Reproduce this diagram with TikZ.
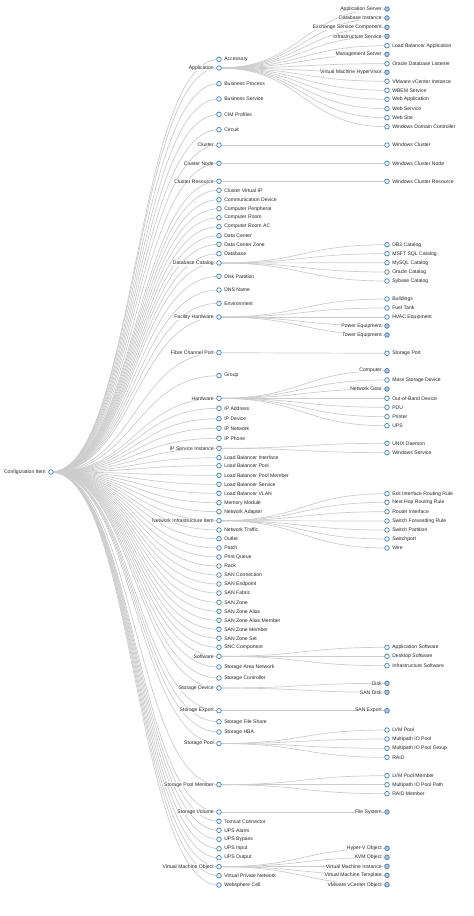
\documentclass[tikz,border=0pt]{standalone}
\usepackage{fontspec}
\setmainfont{Liberation Sans}
\usetikzlibrary{backgrounds}

\definecolor{steel}{HTML}{4682B4}
\definecolor{lightsteel}{HTML}{B0C4DE}
\definecolor{linkgrey}{HTML}{CCCCCC}

\tikzset{
  dot/.style={circle,draw=steel,fill=white,line width=0.75pt,inner sep=0pt,minimum size=4.6pt},
  tag/.style={inner sep=0.3pt,fill=white,label distance=2.1pt,font=\fontsize{5.1pt}{6pt}\selectfont,text=black!85},
  link/.style={draw=linkgrey,line width=0.7pt},
}

\begin{document}
\begin{tikzpicture}[x=1pt,y=-1pt]
  \useasboundingbox (0,0) rectangle (474,916);

  \node[dot,label={[tag]left:Configuration Item}] (root) at (51,472) {};

  % first level: index/y/text/side of label
  \foreach \i/\y/\txt/\side in {
      1/59.3/Accessory/right,
      2/68/Application/left,
      3/83.7/Business Process/right,
      4/99/Business Service/right,
      5/114.3/CIM Profiles/right,
      6/129.7/Circuit/right,
      7/145/Cluster/left,
      8/163.3/Cluster Node/left,
      9/181.3/Cluster Resource/left,
      10/190.3/Cluster Virtual IP/right,
      11/199.7/Communication Device/right,
      12/208.7/Computer Peripheral/right,
      13/217.7/Computer Room/right,
      14/226.7/Computer Room AC/right,
      15/235.7/Data Center/right,
      16/244.3/Data Center Zone/right,
      17/253.7/Database/right,
      18/263/Database Catalog/left,
      19/276.3/Disk Partition/right,
      20/290/DNS Name/right,
      21/303.3/Environment/right,
      22/317/Facility Hardware/left,
      23/352.7/Fibre Channel Port/left,
      24/375.7/Group/right,
      25/398.3/Hardware/left,
      26/408.3/IP Address/right,
      27/418.7/IP Device/right,
      28/428.3/IP Network/right,
      29/438.3/IP Phone/right,
      30/448.3/IP Service Instance/left,
      31/457.7/Load Balancer Interface/right,
      32/465.7/Load Balancer Pool/right,
      33/475.3/Load Balancer Pool Member/right,
      34/484.3/Load Balancer Service/right,
      35/493.3/Load Balancer VLAN/right,
      36/502.7/Memory Module/right,
      37/511.7/Network Adapter/right,
      38/520.7/Network Infrastructure Item/left,
      39/530/Network Traffic/right,
      40/538.7/Outlet/right,
      41/548/Patch/right,
      42/557/Print Queue/right,
      43/566/Rack/right,
      44/575/SAN Connection/right,
      45/584/SAN Endpoint/right,
      46/593/SAN Fabric/right,
      47/602.3/SAN Zone/right,
      48/611.3/SAN Zone Alias/right,
      49/620.3/SAN Zone Alias Member/right,
      50/629.3/SAN Zone Member/right,
      51/638.3/SAN Zone Set/right,
      52/647.3/SNC Component/right,
      53/656.3/Software/left,
      54/667/Storage Area Network/right,
      55/678/Storage Controller/right,
      56/688/Storage Device/left,
      57/710.7/Storage Export/left,
      58/721.7/Storage File Share/right,
      59/732/Storage HBA/right,
      60/743.5/Storage Pool/left,
      61/784.7/Storage Pool Member/left,
      62/812/Storage Volume/left,
      63/821.3/Tomcat Connector/right,
      64/830.3/UPS Alarm/right,
      65/839.3/UPS Bypass/right,
      66/848.7/UPS Input/right,
      67/857.7/UPS Output/right,
      68/866.7/Virtual Machine Object/left,
      69/875.7/Virtual Private Network/right,
      70/885/Websphere Cell/right%
    } {
      \node[dot,label={[tag]\side:\txt}] (c\i) at (219,\y) {};
      \begin{pgfonlayer}{background}
        \draw[link] (root.center) .. controls +(84,0) and +(-84,0) .. (c\i.center);
      \end{pgfonlayer}
    };

  % second level: parent/y/text/side/fill
  \foreach \p/\y/\txt/\side/\tone [count=\k] in {
      2/9/Application Server/left/lightsteel,
      2/18/Database Instance/left/lightsteel,
      2/27.3/Exchange Service Component/left/lightsteel,
      2/36.3/Infrastructure Service/left/lightsteel,
      2/45.7/Load Balancer Application/right/white,
      2/54.3/Management Server/left/lightsteel,
      2/63.7/Oracle Database Listener/right/white,
      2/72.3/Virtual Machine HyperVisor/left/lightsteel,
      2/81.3/VMware vCenter Instance/right/white,
      2/90.3/WBEM Service/right/white,
      2/99.3/Web Application/right/white,
      2/108.7/Web Service/right/white,
      2/117.7/Web Site/right/white,
      2/126.7/Windows Domain Controller/right/white,
      7/145/Windows Cluster/right/white,
      8/163.3/Windows Cluster Node/right/white,
      9/181.3/Windows Cluster Resource/right/white,
      18/244.7/DB2 Catalog/right/white,
      18/253.7/MSFT SQL Catalog/right/white,
      18/262.7/MySQL Catalog/right/white,
      18/272/Oracle Catalog/right/white,
      18/281/Sybase Catalog/right/white,
      22/299/Buildings/right/white,
      22/308/Fuel Tank/right/white,
      22/317/HVAC Equipment/right/white,
      22/326/Power Equipment/left/lightsteel,
      22/335/Tower Equipment/left/lightsteel,
      23/353.3/Storage Port/right/white,
      25/370.7/Computer/left/lightsteel,
      25/380/Mass Storage Device/right/white,
      25/389/Network Gear/left/lightsteel,
      25/398.3/Out-of-Band Device/right/white,
      25/407.3/PDU/right/white,
      25/416.7/Printer/right/white,
      25/425.7/UPS/right/white,
      30/443.3/UNIX Daemon/right/white,
      30/452.7/Windows Service/right/white,
      38/493.7/Exit Interface Routing Rule/right/white,
      38/502.3/Next Hop Routing Rule/right/white,
      38/511.7/Router Interface/right/white,
      38/521/Switch Forwarding Rule/right/white,
      38/530/Switch Partition/right/white,
      38/539/Switchport/right/white,
      38/548/Wire/right/white,
      53/647.3/Application Software/right/white,
      53/656.3/Desktop Software/right/white,
      53/665.7/Infrastructure Software/right/white,
      56/683.3/Disk/left/lightsteel,
      56/692.3/SAN Disk/left/lightsteel,
      57/710.7/SAN Export/left/lightsteel,
      60/730/LVM Pool/right/white,
      60/739/Multipath IO Pool/right/white,
      60/748.3/Multipath IO Pool Group/right/white,
      60/757.3/RAID/right/white,
      61/775.7/LVM Pool Member/right/white,
      61/784.7/Multipath IO Pool Path/right/white,
      61/793.7/RAID Member/right/white,
      62/812/File System/left/lightsteel,
      68/848.3/Hyper-V Object/left/lightsteel,
      68/857.3/KVM Object/left/lightsteel,
      68/866.3/Virtual Machine Instance/left/lightsteel,
      68/875.3/Virtual Machine Template/left/lightsteel,
      68/884.7/VMware vCenter Object/left/lightsteel%
    } {
      \node[dot,fill=\tone,label={[tag]\side:\txt}] (g\k) at (387,\y) {};
      \begin{pgfonlayer}{background}
        \draw[link] (c\p.center) .. controls +(84,0) and +(-84,0) .. (g\k.center);
      \end{pgfonlayer}
    };
\end{tikzpicture}
\end{document}
